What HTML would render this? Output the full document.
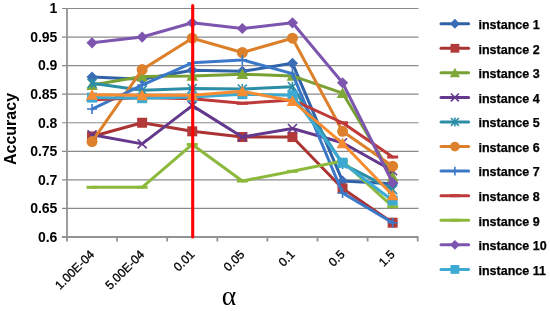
<!DOCTYPE html>
<html><head><meta charset="utf-8"><title>Accuracy chart</title>
<style>
html,body{margin:0;padding:0;background:#fff;width:550px;height:311px;overflow:hidden}
svg{display:block}
.yl{font-family:"Liberation Sans",Arial,sans-serif;font-weight:bold;font-size:14px;text-anchor:end;fill:#000}
.yt{font-family:"Liberation Sans",Arial,sans-serif;font-weight:bold;font-size:16px;text-anchor:middle;fill:#000}
.xl{font-family:"Liberation Sans",Arial,sans-serif;font-size:12.2px;text-anchor:end;fill:#000;stroke:#000;stroke-width:0.3px}
.xt{font-family:"Liberation Serif","DejaVu Serif",serif;font-size:27.5px;text-anchor:middle;fill:#000}
.lg{font-family:"Liberation Sans",Arial,sans-serif;font-weight:bold;font-size:12.5px;fill:#000;stroke:#000;stroke-width:0.25px}
</style></head><body>
<svg width="550" height="311" viewBox="0 0 550 311"><g stroke="#8a8a8a" stroke-width="1.15" fill="none"><path d="M62 8.50H418.5" /><path d="M62 37.06H418.5" /><path d="M62 65.62H418.5" /><path d="M62 94.19H418.5" /><path d="M62 122.75H418.5" /><path d="M62 151.31H418.5" /><path d="M62 179.88H418.5" /><path d="M62 208.44H418.5" /></g><g stroke="#939393" stroke-width="1.8" fill="none"><path d="M62 237.00H418.5" /><path d="M67.0 7.90V241.5" /><path d="M117.10 237.00V241.5" /><path d="M167.20 237.00V241.5" /><path d="M217.30 237.00V241.5" /><path d="M267.40 237.00V241.5" /><path d="M317.50 237.00V241.5" /><path d="M367.60 237.00V241.5" /><path d="M417.70 237.00V241.5" /></g><polyline points="92.05,77.05 142.15,79.33 192.25,70.19 242.35,71.34 292.45,63.34 342.55,181.02 392.65,183.87" fill="none" stroke="#2F62A8" stroke-width="3.0" stroke-linejoin="round" stroke-linecap="round"/><path d="M92.05 71.45L97.65 77.05L92.05 82.65L86.45 77.05Z" fill="#3A6DB5"/><path d="M142.15 73.73L147.75 79.33L142.15 84.93L136.55 79.33Z" fill="#3A6DB5"/><path d="M192.25 64.59L197.85 70.19L192.25 75.79L186.65 70.19Z" fill="#3A6DB5"/><path d="M242.35 65.74L247.95 71.34L242.35 76.94L236.75 71.34Z" fill="#3A6DB5"/><path d="M292.45 57.74L298.05 63.34L292.45 68.94L286.85 63.34Z" fill="#3A6DB5"/><path d="M342.55 175.42L348.15 181.02L342.55 186.62L336.95 181.02Z" fill="#3A6DB5"/><path d="M392.65 178.27L398.25 183.87L392.65 189.47L387.05 183.87Z" fill="#3A6DB5"/><polyline points="92.05,136.46 142.15,122.75 192.25,131.32 242.35,137.03 292.45,137.03 342.55,188.44 392.65,222.72" fill="none" stroke="#AA3434" stroke-width="3.0" stroke-linejoin="round" stroke-linecap="round"/><rect x="87.05" y="131.46" width="10.00" height="10.00" fill="#B23A38"/><rect x="137.15" y="117.75" width="10.00" height="10.00" fill="#B23A38"/><rect x="187.25" y="126.32" width="10.00" height="10.00" fill="#B23A38"/><rect x="237.35" y="132.03" width="10.00" height="10.00" fill="#B23A38"/><rect x="287.45" y="132.03" width="10.00" height="10.00" fill="#B23A38"/><rect x="337.55" y="183.44" width="10.00" height="10.00" fill="#B23A38"/><rect x="387.65" y="217.72" width="10.00" height="10.00" fill="#B23A38"/><polyline points="92.05,85.05 142.15,76.48 192.25,75.91 242.35,74.19 292.45,75.91 342.55,93.05 392.65,176.45" fill="none" stroke="#78A032" stroke-width="3.0" stroke-linejoin="round" stroke-linecap="round"/><path d="M92.05 79.25L97.85 89.98L86.25 89.98Z" fill="#7EA838"/><path d="M142.15 70.68L147.95 81.41L136.35 81.41Z" fill="#7EA838"/><path d="M192.25 70.11L198.05 80.84L186.45 80.84Z" fill="#7EA838"/><path d="M242.35 68.39L248.15 79.12L236.55 79.12Z" fill="#7EA838"/><path d="M292.45 70.11L298.25 80.84L286.65 80.84Z" fill="#7EA838"/><path d="M342.55 87.25L348.35 97.98L336.75 97.98Z" fill="#7EA838"/><path d="M392.65 170.65L398.45 181.38L386.85 181.38Z" fill="#7EA838"/><polyline points="92.05,134.75 142.15,143.89 192.25,105.61 242.35,137.03 292.45,128.46 342.55,142.74 392.65,170.74" fill="none" stroke="#64388C" stroke-width="3.0" stroke-linejoin="round" stroke-linecap="round"/><path d="M87.55 130.25L96.55 139.25M96.55 130.25L87.55 139.25" stroke="#64388C" stroke-width="1.6" fill="none"/><path d="M137.65 139.39L146.65 148.39M146.65 139.39L137.65 148.39" stroke="#64388C" stroke-width="1.6" fill="none"/><path d="M187.75 101.11L196.75 110.11M196.75 101.11L187.75 110.11" stroke="#64388C" stroke-width="1.6" fill="none"/><path d="M237.85 132.53L246.85 141.53M246.85 132.53L237.85 141.53" stroke="#64388C" stroke-width="1.6" fill="none"/><path d="M287.95 123.96L296.95 132.96M296.95 123.96L287.95 132.96" stroke="#64388C" stroke-width="1.6" fill="none"/><path d="M338.05 138.24L347.05 147.24M347.05 138.24L338.05 147.24" stroke="#64388C" stroke-width="1.6" fill="none"/><path d="M388.15 166.24L397.15 175.24M397.15 166.24L388.15 175.24" stroke="#64388C" stroke-width="1.6" fill="none"/><polyline points="92.05,83.33 142.15,90.19 192.25,88.48 242.35,89.05 292.45,86.76 342.55,163.88 392.65,189.59" fill="none" stroke="#2C8DA6" stroke-width="3.0" stroke-linejoin="round" stroke-linecap="round"/><path d="M87.55 78.83L96.55 87.83M96.55 78.83L87.55 87.83M92.05 78.33L92.05 88.33" stroke="#2C8DA6" stroke-width="1.6" fill="none"/><path d="M137.65 85.69L146.65 94.69M146.65 85.69L137.65 94.69M142.15 85.19L142.15 95.19" stroke="#2C8DA6" stroke-width="1.6" fill="none"/><path d="M187.75 83.98L196.75 92.98M196.75 83.98L187.75 92.98M192.25 83.48L192.25 93.48" stroke="#2C8DA6" stroke-width="1.6" fill="none"/><path d="M237.85 84.55L246.85 93.55M246.85 84.55L237.85 93.55M242.35 84.05L242.35 94.05" stroke="#2C8DA6" stroke-width="1.6" fill="none"/><path d="M287.95 82.26L296.95 91.26M296.95 82.26L287.95 91.26M292.45 81.76L292.45 91.76" stroke="#2C8DA6" stroke-width="1.6" fill="none"/><path d="M338.05 159.38L347.05 168.38M347.05 159.38L338.05 168.38M342.55 158.88L342.55 168.88" stroke="#2C8DA6" stroke-width="1.6" fill="none"/><path d="M388.15 185.09L397.15 194.09M397.15 185.09L388.15 194.09M392.65 184.59L392.65 194.59" stroke="#2C8DA6" stroke-width="1.6" fill="none"/><polyline points="92.05,141.60 142.15,69.62 192.25,38.21 242.35,52.49 292.45,38.21 342.55,131.32 392.65,166.17" fill="none" stroke="#DC802C" stroke-width="3.0" stroke-linejoin="round" stroke-linecap="round"/><circle cx="92.05" cy="141.60" r="5.50" fill="#DC802C"/><circle cx="142.15" cy="69.62" r="5.50" fill="#DC802C"/><circle cx="192.25" cy="38.21" r="5.50" fill="#DC802C"/><circle cx="242.35" cy="52.49" r="5.50" fill="#DC802C"/><circle cx="292.45" cy="38.21" r="5.50" fill="#DC802C"/><circle cx="342.55" cy="131.32" r="5.50" fill="#DC802C"/><circle cx="392.65" cy="166.17" r="5.50" fill="#DC802C"/><polyline points="92.05,109.04 142.15,85.05 192.25,62.77 242.35,59.91 292.45,73.62 342.55,193.01 392.65,222.72" fill="none" stroke="#3C78C8" stroke-width="3.0" stroke-linejoin="round" stroke-linecap="round"/><path d="M87.05 109.04L97.05 109.04M92.05 104.04L92.05 114.04" stroke="#3C78C8" stroke-width="1.6" fill="none"/><path d="M137.15 85.05L147.15 85.05M142.15 80.05L142.15 90.05" stroke="#3C78C8" stroke-width="1.6" fill="none"/><path d="M187.25 62.77L197.25 62.77M192.25 57.77L192.25 67.77" stroke="#3C78C8" stroke-width="1.6" fill="none"/><path d="M237.35 59.91L247.35 59.91M242.35 54.91L242.35 64.91" stroke="#3C78C8" stroke-width="1.6" fill="none"/><path d="M287.45 73.62L297.45 73.62M292.45 68.62L292.45 78.62" stroke="#3C78C8" stroke-width="1.6" fill="none"/><path d="M337.55 193.01L347.55 193.01M342.55 188.01L342.55 198.01" stroke="#3C78C8" stroke-width="1.6" fill="none"/><path d="M387.65 222.72L397.65 222.72M392.65 217.72L392.65 227.72" stroke="#3C78C8" stroke-width="1.6" fill="none"/><polyline points="92.05,99.90 142.15,97.62 192.25,98.76 242.35,103.33 292.45,99.90 342.55,122.75 392.65,157.03" fill="none" stroke="#BE3A3A" stroke-width="3.0" stroke-linejoin="round" stroke-linecap="round"/><path d="M86.55 99.90L97.55 99.90" stroke="#BE3A3A" stroke-width="3" fill="none"/><path d="M136.65 97.62L147.65 97.62" stroke="#BE3A3A" stroke-width="3" fill="none"/><path d="M186.75 98.76L197.75 98.76" stroke="#BE3A3A" stroke-width="3" fill="none"/><path d="M236.85 103.33L247.85 103.33" stroke="#BE3A3A" stroke-width="3" fill="none"/><path d="M286.95 99.90L297.95 99.90" stroke="#BE3A3A" stroke-width="3" fill="none"/><path d="M337.05 122.75L348.05 122.75" stroke="#BE3A3A" stroke-width="3" fill="none"/><path d="M387.15 157.03L398.15 157.03" stroke="#BE3A3A" stroke-width="3" fill="none"/><polyline points="92.05,187.30 142.15,187.30 192.25,144.46 242.35,181.02 292.45,171.31 342.55,161.02 392.65,206.72" fill="none" stroke="#8CB93C" stroke-width="3.0" stroke-linejoin="round" stroke-linecap="round"/><path d="M86.55 187.30L97.55 187.30" stroke="#8CB93C" stroke-width="3" fill="none"/><path d="M136.65 187.30L147.65 187.30" stroke="#8CB93C" stroke-width="3" fill="none"/><path d="M186.75 144.46L197.75 144.46" stroke="#8CB93C" stroke-width="3" fill="none"/><path d="M236.85 181.02L247.85 181.02" stroke="#8CB93C" stroke-width="3" fill="none"/><path d="M286.95 171.31L297.95 171.31" stroke="#8CB93C" stroke-width="3" fill="none"/><path d="M337.05 161.02L348.05 161.02" stroke="#8CB93C" stroke-width="3" fill="none"/><path d="M387.15 206.72L398.15 206.72" stroke="#8CB93C" stroke-width="3" fill="none"/><polyline points="92.05,42.78 142.15,37.06 192.25,22.78 242.35,28.49 292.45,22.78 342.55,82.76 392.65,182.73" fill="none" stroke="#7D55AF" stroke-width="3.0" stroke-linejoin="round" stroke-linecap="round"/><path d="M92.05 37.18L97.65 42.78L92.05 48.38L86.45 42.78Z" fill="#7D55AF"/><path d="M142.15 31.46L147.75 37.06L142.15 42.66L136.55 37.06Z" fill="#7D55AF"/><path d="M192.25 17.18L197.85 22.78L192.25 28.38L186.65 22.78Z" fill="#7D55AF"/><path d="M242.35 22.89L247.95 28.49L242.35 34.09L236.75 28.49Z" fill="#7D55AF"/><path d="M292.45 17.18L298.05 22.78L292.45 28.38L286.85 22.78Z" fill="#7D55AF"/><path d="M342.55 77.16L348.15 82.76L342.55 88.36L336.95 82.76Z" fill="#7D55AF"/><path d="M392.65 177.13L398.25 182.73L392.65 188.33L387.05 182.73Z" fill="#7D55AF"/><polyline points="92.05,97.62 142.15,98.19 192.25,97.04 242.35,94.19 292.45,95.33 342.55,162.74 392.65,200.44" fill="none" stroke="#3CAAD2" stroke-width="3.0" stroke-linejoin="round" stroke-linecap="round"/><rect x="87.05" y="92.62" width="10.00" height="10.00" fill="#3CAAD2"/><rect x="137.15" y="93.19" width="10.00" height="10.00" fill="#3CAAD2"/><rect x="187.25" y="92.04" width="10.00" height="10.00" fill="#3CAAD2"/><rect x="237.35" y="89.19" width="10.00" height="10.00" fill="#3CAAD2"/><rect x="287.45" y="90.33" width="10.00" height="10.00" fill="#3CAAD2"/><rect x="337.55" y="157.74" width="10.00" height="10.00" fill="#3CAAD2"/><rect x="387.65" y="195.44" width="10.00" height="10.00" fill="#3CAAD2"/><polyline points="92.05,94.76 142.15,95.33 192.25,95.33 242.35,91.33 292.45,101.04 342.55,143.31 392.65,195.30" fill="none" stroke="#F78C32" stroke-width="3.0" stroke-linejoin="round" stroke-linecap="round"/><path d="M92.05 88.96L97.85 99.69L86.25 99.69Z" fill="#F78C32"/><path d="M142.15 89.53L147.95 100.26L136.35 100.26Z" fill="#F78C32"/><path d="M192.25 89.53L198.05 100.26L186.45 100.26Z" fill="#F78C32"/><path d="M242.35 85.53L248.15 96.26L236.55 96.26Z" fill="#F78C32"/><path d="M292.45 95.24L298.25 105.97L286.65 105.97Z" fill="#F78C32"/><path d="M342.55 137.51L348.35 148.25L336.75 148.25Z" fill="#F78C32"/><path d="M392.65 189.50L398.45 200.23L386.85 200.23Z" fill="#F78C32"/><path d="M192.7 5.6V237" stroke="#FF0000" stroke-width="3.1" stroke-linecap="round"/><text x="57.4" y="13.30" class="yl">1</text><text x="57.4" y="41.86" class="yl">0.95</text><text x="57.4" y="70.42" class="yl">0.9</text><text x="57.4" y="98.99" class="yl">0.85</text><text x="57.4" y="127.55" class="yl">0.8</text><text x="57.4" y="156.11" class="yl">0.75</text><text x="57.4" y="184.68" class="yl">0.7</text><text x="57.4" y="213.24" class="yl">0.65</text><text x="57.4" y="241.80" class="yl">0.6</text><text class="yt" transform="translate(16.1 129) rotate(-90)">Accuracy</text><text class="xl" transform="translate(95.05 255.2) rotate(-45)">1.00E-04</text><text class="xl" transform="translate(145.15 255.2) rotate(-45)">5.00E-04</text><text class="xl" transform="translate(195.25 255.2) rotate(-45)">0.01</text><text class="xl" transform="translate(245.35 255.2) rotate(-45)">0.05</text><text class="xl" transform="translate(295.45 255.2) rotate(-45)">0.1</text><text class="xl" transform="translate(345.55 255.2) rotate(-45)">0.5</text><text class="xl" transform="translate(395.65 255.2) rotate(-45)">1.5</text><text class="xt" x="229" y="305.4">α</text><path d="M441 23.70H468.6" stroke="#2F62A8" stroke-width="3.0" stroke-linecap="round"/><path d="M454.90 18.77L459.83 23.70L454.90 28.63L449.97 23.70Z" fill="#3A6DB5"/><text class="lg" x="478.5" y="29.00">instance 1</text><path d="M441 48.27H468.6" stroke="#AA3434" stroke-width="3.0" stroke-linecap="round"/><rect x="450.50" y="43.87" width="8.80" height="8.80" fill="#B23A38"/><text class="lg" x="478.5" y="53.57">instance 2</text><path d="M441 72.84H468.6" stroke="#78A032" stroke-width="3.0" stroke-linecap="round"/><path d="M454.90 67.74L460.00 77.18L449.80 77.18Z" fill="#7EA838"/><text class="lg" x="478.5" y="78.14">instance 3</text><path d="M441 97.41H468.6" stroke="#64388C" stroke-width="3.0" stroke-linecap="round"/><path d="M450.94 93.45L458.86 101.37M458.86 93.45L450.94 101.37" stroke="#64388C" stroke-width="1.6" fill="none"/><text class="lg" x="478.5" y="102.71">instance 4</text><path d="M441 121.98H468.6" stroke="#2C8DA6" stroke-width="3.0" stroke-linecap="round"/><path d="M450.94 118.02L458.86 125.94M458.86 118.02L450.94 125.94M454.90 117.52L454.90 126.44" stroke="#2C8DA6" stroke-width="1.6" fill="none"/><text class="lg" x="478.5" y="127.28">instance 5</text><path d="M441 146.55H468.6" stroke="#DC802C" stroke-width="3.0" stroke-linecap="round"/><circle cx="454.90" cy="146.55" r="4.84" fill="#DC802C"/><text class="lg" x="478.5" y="151.85">instance 6</text><path d="M441 171.12H468.6" stroke="#3C78C8" stroke-width="3.0" stroke-linecap="round"/><path d="M450.50 171.12L459.30 171.12M454.90 166.72L454.90 175.52" stroke="#3C78C8" stroke-width="1.6" fill="none"/><text class="lg" x="478.5" y="176.42">instance 7</text><path d="M441 195.69H468.6" stroke="#BE3A3A" stroke-width="3.0" stroke-linecap="round"/><path d="M450.06 195.69L459.74 195.69" stroke="#BE3A3A" stroke-width="3" fill="none"/><text class="lg" x="478.5" y="200.99">instance 8</text><path d="M441 220.26H468.6" stroke="#8CB93C" stroke-width="3.0" stroke-linecap="round"/><path d="M450.06 220.26L459.74 220.26" stroke="#8CB93C" stroke-width="3" fill="none"/><text class="lg" x="478.5" y="225.56">instance 9</text><path d="M441 244.83H468.6" stroke="#7D55AF" stroke-width="3.0" stroke-linecap="round"/><path d="M454.90 239.90L459.83 244.83L454.90 249.76L449.97 244.83Z" fill="#7D55AF"/><text class="lg" x="478.5" y="250.13">instance 10</text><path d="M441 269.40H468.6" stroke="#3CAAD2" stroke-width="3.0" stroke-linecap="round"/><rect x="450.50" y="265.00" width="8.80" height="8.80" fill="#3CAAD2"/><text class="lg" x="478.5" y="274.70">instance 11</text></svg>
</body></html>
